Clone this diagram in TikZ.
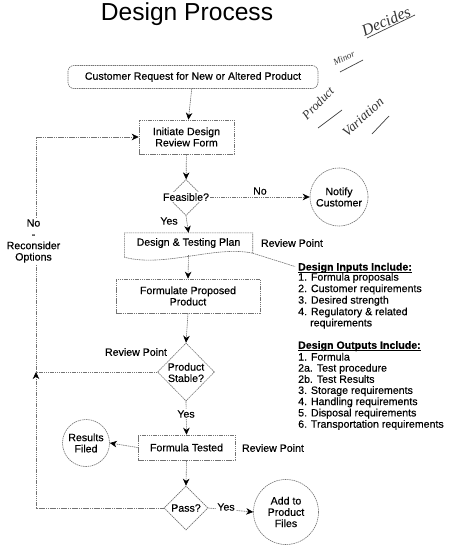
\documentclass[tikz,border=0pt]{standalone}
\usepackage{fontspec}
\setmainfont{Liberation Sans}[FakeBold=0.35]
\newfontfamily\plainfont{Liberation Sans}
\newfontfamily\handfont{Liberation Serif}
\usetikzlibrary{shapes.geometric,arrows.meta,calc}
\begin{document}
\begin{tikzpicture}[x=1pt,y=-1pt,
  every node/.style={font=\fontsize{10.6}{11.3}\selectfont\addfontfeature{FakeBold=0.35}, inner sep=0pt, align=center},
  ln/.style={draw=black!55, line width=0.6pt, dash pattern=on 1.5pt off 0.7pt},
  arr/.style={ln, -{Stealth[length=7pt,width=6.5pt,inset=2.2pt,color=black]}},
  procbox/.style={ln, rectangle},
  decision/.style={ln, diamond},
  terminal/.style={ln, circle},
  lbl/.style={fill=white, inner sep=1pt},
  listitem/.style={anchor=base west, align=left},
  headline/.style={draw=black, line width=0.7pt},
  hand/.style={text=black!80},
  handline/.style={draw=black!75, line width=0.7pt},
]
\useasboundingbox (0,0) rectangle (474,560);

% title
\node[anchor=base] (title) at (187,20) {\plainfont\fontsize{24.6}{28}\selectfont Design Process};

% main nodes
\node[ln, rounded corners=6pt, minimum width=250, minimum height=23] (req) at (193,77) {Customer Request for New or Altered Product};
\node[procbox, minimum width=95, minimum height=34] (init) at (186.5,137) {Initiate Design\\Review Form};
\node[decision, minimum width=36, minimum height=36] (feas) at (186,197.5) {};
\node[terminal, minimum size=58] (notify) at (339,197) {Notify\\Customer};
\node[minimum width=128, minimum height=20] (plan) at (188.5,243) {Design \& Testing Plan};
\node[procbox, minimum width=144, minimum height=34] (form) at (188,296) {Formulate Proposed\\Product};
\node[decision, minimum width=57, minimum height=58] (stable) at (186,372) {};
\node[procbox, minimum width=97, minimum height=25] (tested) at (186.5,447.5) {Formula Tested};
\node[terminal, minimum size=47] (filed) at (86,443) {Results\\Filed};
\node[decision, minimum width=44, minimum height=44] (pass) at (186,508) {};
\node[terminal, minimum size=65] (addf) at (286,512) {Add to\\Product\\Files};

% document shape outline
\draw[ln] ($(plan.south west)+(0,4)$) -- (plan.north west) -- (plan.north east) -- (plan.south east)
  .. controls (215,245) and (165,268) .. ($(plan.south west)+(0,4)$);

% texts inside diamonds
\node[lbl] (feast) at (186,197) {Feasible?};
\node (stablet) at (186,372.5) {Product\\Stable?};
\node (passt) at (186,508) {Pass?};

% review point labels
\node (rp1) at (292,243) {Review Point};
\node (rp2) at (136,352) {Review Point};
\node (rp3) at (273,448) {Review Point};

% connectors
\draw[arr] (req) -- (init);
\draw[arr] (init) -- (feas);
\draw[arr] (feast.east) -- node[above=2pt] (nolbl) {No} (notify.west);
\draw[arr] (feas.south) -- (plan.north);
\node (yes1) at (169,221) {Yes};
\draw[arr] ($(plan.south)+(0,2)$) -- (form.north);
\draw[arr] (form.south) -- (stable.north);
\draw[arr] (stable.south) -- (tested.north);
\node[lbl] (yes2) at (186,414) {Yes};
\draw[arr] (tested.west) -- (filed.east);
\draw[arr] (tested.south) -- (pass.north);
\draw[arr] (pass.east) -- (addf.west);
\node[lbl] (yes3) at (226,507) {Yes};

% loop back
\coordinate (lb) at (36,508);
\coordinate (lm) at (36,372);
\coordinate (lt) at (36,137);
\draw[ln] (pass.west) -- (lb);
\draw[arr] (lb) -- (lm);
\draw[ln] (stable.west) -- (lm);
\draw[ln] (lm) -- (lt);
\draw[arr] (lt) -- (init.west);
\node[lbl] (recon) at (33.5,241) {No\\-\\Reconsider\\Options};

% design inputs / outputs
\node[listitem] (inhead) at (298,270.5) {\textbf{Design Inputs Include:}};
\draw[headline] ($(inhead.base west)+(0,1.4)$) -- ($(inhead.base east)+(0,1.4)$);
\node[listitem] (in1) at (298,280.6) {1. Formula proposals};
\node[listitem] (in2) at (298,292.1) {2. Customer requirements};
\node[listitem] (in3) at (298,303.6) {3. Desired strength};
\node[listitem] (in4) at (298,315.2) {4. Regulatory \& related};
\node[listitem] (in5) at (310,326.4) {requirements};
\draw[ln] (plan.south east) -- ($(inhead.base west)+(-3,-4)$);

\node[listitem] (outhead) at (298,348.8) {\textbf{Design Outputs Include:}};
\draw[headline] ($(outhead.base west)+(0,1.4)$) -- ($(outhead.base east)+(0,1.4)$);
\node[listitem] (out1) at (298,360.5) {1. Formula};
\node[listitem] (out2) at (298,371.6) {2a. Test procedure};
\node[listitem] (out3) at (298,382.8) {2b. Test Results};
\node[listitem] (out4) at (298,393.9) {3. Storage requirements};
\node[listitem] (out5) at (298,405.1) {4. Handling requirements};
\node[listitem] (out6) at (298,416.4) {5. Disposal requirements};
\node[listitem] (out7) at (298,427.7) {6. Transportation requirements};

% handwritten notes
\node[hand, rotate=24, font=\handfont\itshape\fontsize{16}{18}\selectfont] (hw1) at (386,21) {Decides};
\draw[handline] (367,38) -- (415,15);
\node[hand, rotate=26, font=\handfont\itshape\fontsize{9}{10}\selectfont] (hw2) at (344,58) {Minor};
\draw[handline] (340,72) -- (363,60);
\node[hand, rotate=46, font=\handfont\itshape\fontsize{12.5}{14}\selectfont] (hw3) at (318,103) {Product};
\draw[handline] (318,128) -- (342,110);
\node[hand, rotate=42, font=\handfont\itshape\fontsize{13.5}{15}\selectfont] (hw4) at (363,117) {Variation};
\draw[handline] (372,134) -- (389,116);
\end{tikzpicture}
\end{document}
